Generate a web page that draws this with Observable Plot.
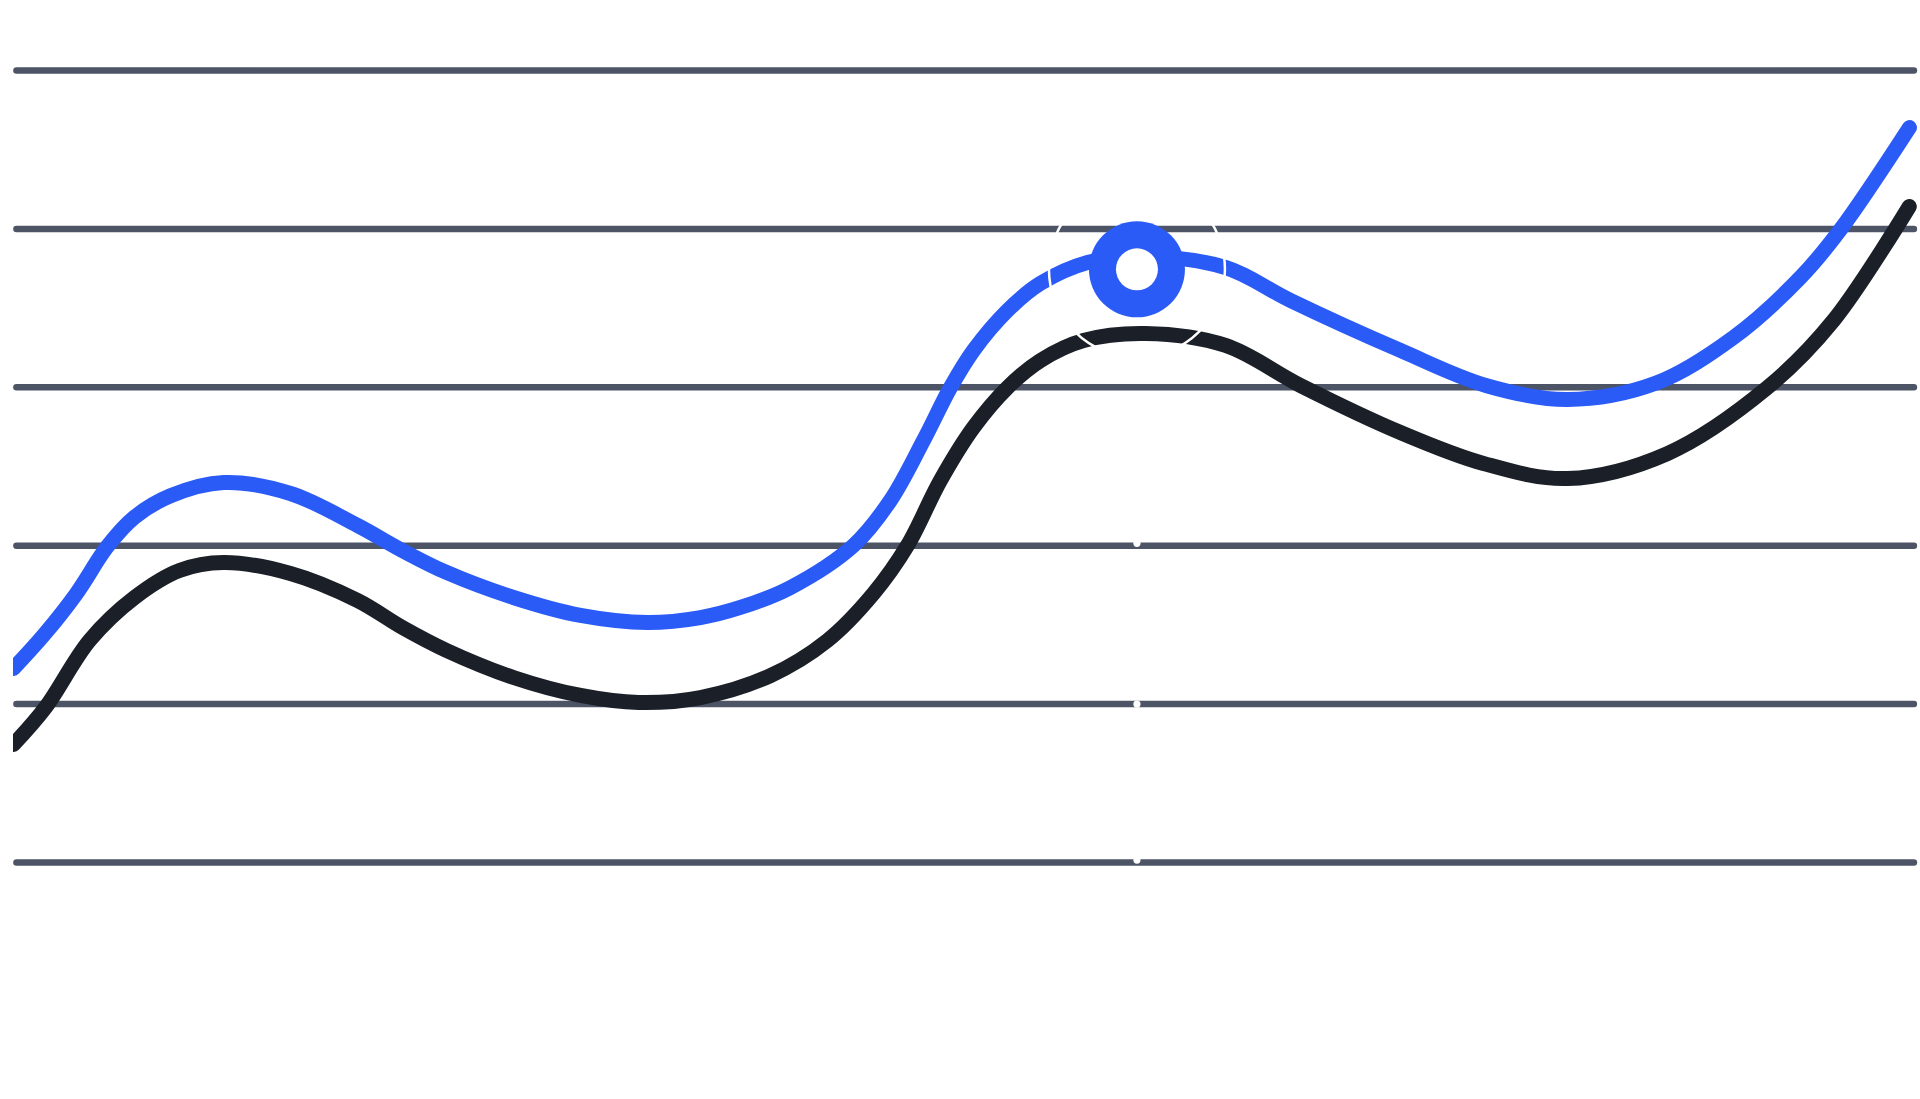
<!DOCTYPE html>
<html>
<head>
<meta charset="utf-8">
<script src="https://cdn.jsdelivr.net/npm/d3@7"></script>
<script src="https://cdn.jsdelivr.net/npm/@observablehq/plot@0.6"></script>
<style>
  html, body { margin: 0; padding: 0; background: #ffffff; overflow: hidden; }
  #chart svg { display: block; }
</style>
</head>
<body>
<div id="chart"></div>
<script>
// Gridline values
const gridValues = [0, 20, 40, 60, 80, 100];

// Blue series
const blueX = [0, 1.66, 3.31, 4.94, 6.37, 8.26, 11.05, 14.57, 18.10, 20.46, 22.78, 26.30, 29.83, 33.35, 36.14, 38.24, 40.87, 44.19, 46.13, 47.87, 49.29, 50.50, 52.29, 54.02, 56.50, 59.28, 63.76, 67.18, 72.96, 77.50, 81.75, 86.38, 90.48, 94.00, 96.11, 99.74];
const blueY = [24.5, 28.91, 33.96, 39.90, 43.6, 46.3, 47.98, 46.59, 42.55, 39.39, 36.62, 33.46, 31.19, 30.30, 30.93, 32.20, 34.72, 40.03, 45.71, 53.28, 59.97, 64.65, 69.70, 73.11, 75.76, 76.52, 75.13, 70.96, 64.65, 60.20, 58.46, 60.5, 66.29, 73.86, 79.92, 92.80];

// Black series
const blackX = [0, 1.68, 4.00, 6.37, 8.73, 11.05, 14.57, 18.10, 20.46, 22.78, 26.30, 29.83, 32.88, 36.14, 39.82, 42.82, 45.24, 47.03, 48.76, 50.50, 52.29, 54.02, 56.29, 59.55, 63.76, 67.70, 72.96, 77.33, 81.75, 87.01, 92.27, 95.74, 99.73];
const blackY = [14.9, 19.57, 28.03, 33.46, 36.87, 37.88, 36.49, 33.08, 29.67, 26.77, 23.36, 21.09, 20.20, 20.83, 23.60, 28.03, 33.96, 40.03, 48.23, 54.92, 59.97, 63.38, 65.91, 66.79, 65.28, 60.23, 54.29, 50.38, 48.48, 51.64, 59.97, 68.43, 82.83];

// Highlighted point
const markerX = [59.1];
const markerY = [74.9];
const notchY = [40.3, 20, 0.3];

const blue = blueX.map((x, i) => ({x, y: blueY[i]}));
const black = blackX.map((x, i) => ({x, y: blackY[i]}));
const marker = markerX.map((x, i) => ({x, y: markerY[i]}));
const notches = notchY.map(y => ({x: markerX[0], y}));

const BLUE = "#2b5bf6";
const DARK = "#1b1f27";
const GRID = "#4c5466";

const chart = Plot.plot({
  width: 1920,
  height: 1099,
  marginLeft: 13,
  marginRight: 0,
  marginTop: 70,
  marginBottom: 237,
  style: {background: "#ffffff"},
  x: {domain: [0, 100.32], axis: null},
  y: {domain: [0, 100], axis: null},
  marks: [
    Plot.ruleY(gridValues, {y: d => d, x1: 0.18, x2: 100, stroke: GRID, strokeWidth: 6.5, strokeLinecap: "round"}),
    Plot.line(black, {x: "x", y: "y", curve: "catmull-rom", stroke: DARK, strokeWidth: 15, strokeLinecap: "round", strokeLinejoin: "round", clip: "frame"}),
    Plot.line(blue, {x: "x", y: "y", curve: "catmull-rom", stroke: BLUE, strokeWidth: 15, strokeLinecap: "round", strokeLinejoin: "round", clip: "frame"}),
    Plot.dot(marker, {x: "x", y: "y", r: 88, fill: "none", stroke: "#ffffff", strokeWidth: 2.5}),
    Plot.dot(marker, {x: "x", y: "y", r: 48, fill: BLUE, stroke: "none"}),
    Plot.dot(marker, {x: "x", y: "y", r: 21, fill: "#ffffff", stroke: "none"}),
    Plot.dot(notches, {x: "x", y: "y", r: 3.6, fill: "#ffffff", stroke: "none"})
  ]
});
document.getElementById("chart").appendChild(chart);
</script>
</body>
</html>
